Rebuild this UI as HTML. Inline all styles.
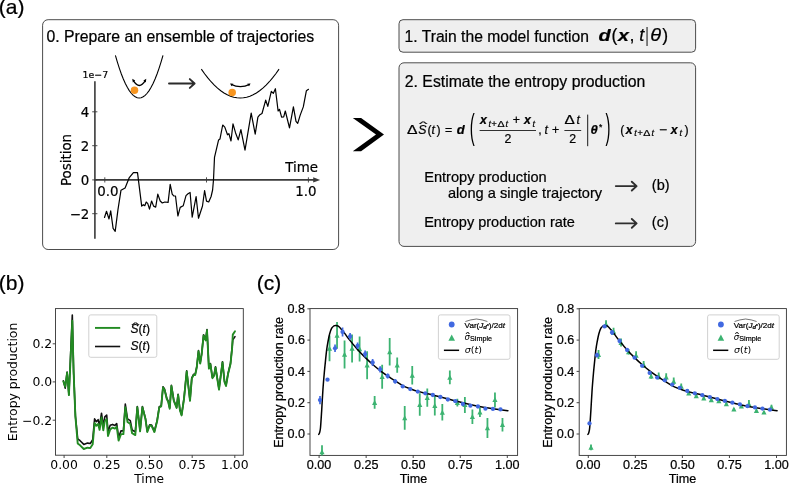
<!DOCTYPE html>
<html lang="en"><head><meta charset="utf-8"><title>Figure</title>
<style>html,body{margin:0;padding:0;background:#fff}svg{display:block}.ls{font-family:"Liberation Sans",Arial,Helvetica,sans-serif;stroke:#000;stroke-width:0.22px}.dv{font-family:"DejaVu Sans","Liberation Sans",sans-serif}.lsn{font-family:"Liberation Sans",Arial,Helvetica,sans-serif}.ser{font-family:"Liberation Serif","DejaVu Serif",serif}.da{stroke:#000;stroke-width:0.2px}text{fill:#000}</style></head><body>
<svg width="789" height="484" viewBox="0 0 789 484">
<rect width="789" height="484" fill="#fff"/>
<text class="ls" x="-1.2" y="14.4" font-size="21">(a)</text>
<text class="ls" x="-1.2" y="290.1" font-size="21">(b)</text>
<text class="ls" x="256.8" y="290.1" font-size="21">(c)</text>
<rect x="42.6" y="19.7" width="296" height="229.8" rx="5.5" fill="#fff" stroke="#4d4d4d" stroke-width="1"/>
<text class="ls" x="46.4" y="42.3" font-size="15.8">0. Prepare an ensemble of trajectories</text>
<line x1="94.9" y1="81.3" x2="94.9" y2="238.8" stroke="#3a3a3a" stroke-width="1.6"/>
<line x1="94.2" y1="179.9" x2="316" y2="179.9" stroke="#3a3a3a" stroke-width="1.6"/>
<polygon points="320.2,179.9 313.2,177.3 313.2,182.5" fill="#3a3a3a"/>
<line x1="92.2" y1="111.8" x2="97.4" y2="111.8" stroke="#3a3a3a" stroke-width="0.9"/>
<text class="dv da" x="89.4" y="116.75" font-size="13.4" text-anchor="end">4</text>
<line x1="92.2" y1="145.7" x2="97.4" y2="145.7" stroke="#3a3a3a" stroke-width="0.9"/>
<text class="dv da" x="89.4" y="150.65" font-size="13.4" text-anchor="end">2</text>
<line x1="92.2" y1="179.9" x2="97.4" y2="179.9" stroke="#3a3a3a" stroke-width="0.9"/>
<text class="dv da" x="89.4" y="184.85" font-size="13.4" text-anchor="end">0</text>
<line x1="92.2" y1="213.7" x2="97.4" y2="213.7" stroke="#3a3a3a" stroke-width="0.9"/>
<text class="dv da" x="89.4" y="218.65" font-size="13.4" text-anchor="end">−2</text>
<line x1="104.8" y1="177.3" x2="104.8" y2="182.5" stroke="#3a3a3a" stroke-width="0.9"/>
<line x1="206.5" y1="177.3" x2="206.5" y2="182.5" stroke="#3a3a3a" stroke-width="0.9"/>
<line x1="308.4" y1="177.3" x2="308.4" y2="182.5" stroke="#3a3a3a" stroke-width="0.9"/>
<text class="dv da" x="97.2" y="195.5" font-size="13.4">0.0</text>
<text class="dv da" x="295.2" y="195.5" font-size="13.4">1.0</text>
<text class="dv da" x="285.2" y="172.2" font-size="13.4">Time</text>
<text class="dv da" x="82.6" y="77.8" font-size="9.4">1e−7</text>
<text class="dv da" font-size="13.4" text-anchor="middle" transform="translate(70.8,160) rotate(-90)">Position</text>
<polyline points="104.5,217.5 106.5,211.3 109,219 110.7,210.9 113.1,228.4 115.2,231.3 117.9,210.2 121,190.2 125.1,187.9 129.3,177.6 133.4,172.6 137.5,172.6 141.7,206.1 143.3,204.7 144.8,205.7 146.2,202 147.8,203.6 149.5,209.2 151.6,201 153.6,206.1 155.7,207.1 157.8,194.1 160.2,201 162.3,203 164.8,202 168.1,202.4 170.2,184.4 172.2,194.1 173.7,195.8 175.5,196 177.9,216 180.2,207.4 183.2,205.8 186,195.6 188,193.7 190.1,192.5 192.2,217.1 196.1,196.6 198.5,218.2 202.5,206 204.6,190.5 206.5,201.1 208.7,202 211.1,196.5 212.6,190 213.5,179.7 214.5,157.4 218.6,139.9 220,138.9 222.7,125 224.8,127.1 227.5,134.8 228.9,133.7 231,141 233,123.8 235.5,132.7 238.2,139.9 240.9,129.6 245,150.2 251.2,113.1 255.2,134.1 257.9,117.2 259.9,114.7 262,113.5 265.7,100.2 267.8,106.4 271.3,91.4 273.3,93.4 275.4,88.7 278.1,111 279.5,109.3 281.6,117.2 283.7,116.8 285.3,111 289.5,127.9 293.4,106.9 296,121.3 297.7,123.4 300.2,115.1 303.3,106.9 306.4,90.7 308.5,89.3" fill="none" stroke="#000" stroke-width="1.2" stroke-linejoin="round" stroke-linecap="round"/>
<polyline points="115.4,55.3 117.38,62.12 119.37,68.35 121.35,73.98 123.33,79.02 125.32,83.47 127.3,87.33 129.28,90.59 131.27,93.26 133.25,95.33 135.23,96.81 137.22,97.7 139.2,98 141.18,97.7 143.17,96.81 145.15,95.33 147.13,93.26 149.12,90.59 151.1,87.33 153.08,83.47 155.07,79.02 157.05,73.98 159.03,68.35 161.02,62.12 163,55.3" fill="none" stroke="#000" stroke-width="1.1"/>
<polyline points="201.35,69.1 204.59,73.72 207.82,77.93 211.06,81.74 214.3,85.16 217.54,88.17 220.77,90.78 224.01,92.98 227.25,94.79 230.49,96.19 233.72,97.2 236.96,97.8 240.2,98 243.44,97.8 246.67,97.2 249.91,96.19 253.15,94.79 256.39,92.98 259.62,90.78 262.86,88.17 266.1,85.16 269.34,81.74 272.57,77.93 275.81,73.72 279.05,69.1" fill="none" stroke="#000" stroke-width="1.1"/>
<circle cx="134.5" cy="90.3" r="3.75" fill="#f7951f"/>
<circle cx="232.2" cy="92.6" r="3.75" fill="#f7951f"/>
<path d="M133.2,80.4 Q139.3,90.6 145.4,80.4" fill="none" stroke="#000" stroke-width="1.3"/>
<polygon points="132.3,78.8 135.2,80.6 132.8,82.4" fill="#000"/>
<polygon points="146.3,78.8 143.4,80.6 145.8,82.4" fill="#000"/>
<path d="M231.2,84.4 Q240.4,88.9 249.6,84.4" fill="none" stroke="#000" stroke-width="1.3"/>
<polygon points="230,83.4 233.4,83.7 231.6,86.3" fill="#000"/>
<polygon points="250.6,83.4 247.2,83.7 249,86.3" fill="#000"/>
<path d="M169,83.5 H194 M189.8,79.1 L194.6,83.5 L189.8,87.9" fill="none" stroke="#2b2b2b" stroke-width="1.9" stroke-linejoin="round" stroke-linecap="round"/>
<polygon points="352.8,118.1 361.1,118.1 384,134.5 361.1,151.2 352.8,151.2 376,134.5" fill="#000"/>
<rect x="399" y="19.7" width="296.6" height="32.5" rx="4" fill="#efefef" stroke="#4d4d4d" stroke-width="1"/>
<rect x="399" y="62.8" width="296.6" height="183.6" rx="5" fill="#efefef" stroke="#4d4d4d" stroke-width="1"/>
<text class="ls" x="404.6" y="42.4" font-size="15.65">1. Train the model function</text>
<text class="ls" font-size="17" transform="translate(598.4,40.9) scale(1.17,1.0)" font-weight="bold" font-style="italic">d</text>
<text class="ls" font-size="17.6" transform="translate(611.4,41.2) scale(1.0,1.0)">(</text>
<text class="ls" font-size="17" transform="translate(618,40.9) scale(1.15,1.0)" font-weight="bold" font-style="italic">x</text>
<text class="ls" font-size="18" transform="translate(629.6,40.9) scale(1.0,1.0)">,</text>
<text class="ls" font-size="18" transform="translate(639.2,40.9) scale(1.0,1.0)" font-style="italic">t</text>
<text class="lsn" font-size="17" transform="translate(645.5,42.3) scale(0.7,1.22)">|</text>
<text class="ls" font-size="18.5" transform="translate(650.2,40.9) scale(1.08,1.0)" font-style="italic">θ</text>
<text class="ls" font-size="17.6" transform="translate(662.2,41.2) scale(1.0,1.0)">)</text>
<text class="ls" x="404.8" y="86.8" font-size="15.8">2. Estimate the entropy production</text>
<text class="ls" font-size="12.3" transform="translate(406.9,133.8) scale(1.28,1.0)">Δ</text>
<text class="ls" x="418.2" y="133.8" font-size="12.3" font-style="italic">S</text>
<text class="ls" font-size="10" transform="translate(423.2,125.6) scale(1.8,0.8)" text-anchor="middle">^</text>
<text class="ls" x="427.6" y="133.8" font-size="12.3">(</text>
<text class="ls" x="431.6" y="133.8" font-size="12.3" font-style="italic">t</text>
<text class="ls" x="436.4" y="133.8" font-size="12.3">)</text>
<text class="ls" x="444.9" y="133.8" font-size="12.3">=</text>
<text class="ls" x="456.8" y="133.8" font-size="13" font-weight="bold" font-style="italic">d</text>
<text class="lsn" font-size="24" transform="translate(469.8,139.4) scale(0.62,1.45)">(</text>
<text class="lsn" font-size="24" transform="translate(605.6,139.4) scale(0.62,1.45)">)</text>
<text class="ls" x="480" y="124" font-size="12.3" font-weight="bold" font-style="italic">x</text>
<text class="ls" x="488.4" y="126.6" font-size="9" font-style="italic">t</text>
<text class="ls" x="491.6" y="126.6" font-size="9">+</text>
<text class="ls" font-size="9" transform="translate(497.4,126.6) scale(1.18,1.0)">Δ</text>
<text class="ls" x="505.6" y="126.6" font-size="9" font-style="italic">t</text>
<text class="ls" x="512.8" y="124" font-size="12.3">+</text>
<text class="ls" x="523.9" y="124" font-size="12.3" font-weight="bold" font-style="italic">x</text>
<text class="ls" x="532.4" y="126.6" font-size="9" font-style="italic">t</text>
<line x1="479.6" y1="130.5" x2="536" y2="130.5" stroke="#000" stroke-width="0.8"/>
<text class="ls" x="508" y="142.6" font-size="12.3" text-anchor="middle">2</text>
<text class="ls" x="538.2" y="133.8" font-size="12.3">,</text>
<text class="ls" x="544.4" y="133.8" font-size="12.3" font-style="italic">t</text>
<text class="ls" x="552" y="133.8" font-size="12.3">+</text>
<text class="ls" font-size="12.3" transform="translate(564.6,124.2) scale(1.25,1.0)">Δ</text>
<text class="ls" x="576.6" y="124.2" font-size="12.3" font-style="italic">t</text>
<line x1="564.4" y1="130.5" x2="581.2" y2="130.5" stroke="#000" stroke-width="0.8"/>
<text class="ls" x="572.6" y="142.6" font-size="12.3" text-anchor="middle">2</text>
<line x1="587.7" y1="114.6" x2="587.7" y2="146.2" stroke="#000" stroke-width="0.9"/>
<text class="ls" x="590.4" y="133.8" font-size="13" font-weight="bold" font-style="italic">θ</text>
<text class="ls" x="599" y="129.6" font-size="8.5">*</text>
<text class="ls" x="620.2" y="133.8" font-size="12.3">(</text>
<text class="ls" x="625.8" y="133.8" font-size="12.3" font-weight="bold" font-style="italic">x</text>
<text class="ls" x="634.2" y="136.4" font-size="9" font-style="italic">t</text>
<text class="ls" x="637.4" y="136.4" font-size="9">+</text>
<text class="ls" font-size="9" transform="translate(643.2,136.4) scale(1.18,1.0)">Δ</text>
<text class="ls" x="651.4" y="136.4" font-size="9" font-style="italic">t</text>
<text class="ls" font-size="12.3" transform="translate(659,133.8) scale(1.12,1.0)">−</text>
<text class="ls" x="670.8" y="133.8" font-size="12.3" font-weight="bold" font-style="italic">x</text>
<text class="ls" x="679.4" y="136.4" font-size="9" font-style="italic">t</text>
<text class="ls" x="684.4" y="133.8" font-size="12.3">)</text>
<text class="ls" x="424.2" y="181.6" font-size="14.6">Entropy production</text>
<text class="ls" x="448" y="198.1" font-size="14.6">along a single trajectory</text>
<text class="ls" x="424.2" y="226.8" font-size="14.5">Entropy production rate</text>
<path d="M615.8,186.1 H636 M631.8,181.7 L636.6,186.1 L631.8,190.5" fill="none" stroke="#2e2e2e" stroke-width="1.9" stroke-linejoin="round" stroke-linecap="round"/>
<path d="M615.8,223.4 H636 M631.8,219.0 L636.6,223.4 L631.8,227.8" fill="none" stroke="#2e2e2e" stroke-width="1.9" stroke-linejoin="round" stroke-linecap="round"/>
<text class="ls" x="651.8" y="190.3" font-size="14.5">(b)</text>
<text class="ls" x="651.8" y="227" font-size="14.5">(c)</text>
<rect x="55.5" y="308.6" width="187.8" height="146.6" fill="#fff" stroke="#333" stroke-width="0.9"/>
<polyline points="63.4,380.8 65.2,388.1 67.1,372.1 68.9,394.4 72.3,315.1 73.6,371.2 75.4,415.8 77.7,438.8 80.1,440.7 83.8,444.4 87.5,443.1 90.3,443.5 92.7,439.7 94.6,418.8 96.3,421.6 98.1,419.7 99.6,425.7 101.5,413.2 103.3,426.2 104.8,416.9 106.7,415.1 108,431.8 110.2,425.3 112.6,424.4 114.9,425.4 116.7,423.5 118.6,437.4 121,430.9 123.4,430.9 125.3,404 127.5,418.8 130.3,420.7 132.1,430 135.3,431.9 137.3,406.5 140.1,430.6 142.4,406.5 145.5,418.6 147.3,431.3 149.7,424.8 151.6,425.1 154.4,431.3 157.1,420.6 159.3,406.7 161.2,405.8 163,386.8 164.5,389 166.9,398.7 168.2,401.1 169.7,408 171.4,385.3 173.8,400.2 176.6,407.3 178.1,394.2 179.9,409.5 181.6,414.7 184,398.3 186.7,370.8 190,400.2 191.8,377.9 193.7,374.2 195.2,374.3 196.8,366.5 198.5,350.6 200.2,362.9 201.7,353.5 203.6,334.7 205.7,339.7 207,329.6 208.9,367.9 210.4,363.5 212.4,377.5 214.1,375.1 215.5,366.8 219,389 222.5,361.7 224.5,381.3 226,385.3 228.1,373.2 230.5,363.3 232.1,347.7 232.8,339.9 235,336.6" fill="none" stroke="#111" stroke-width="1.6" stroke-linejoin="round" stroke-linecap="round"/>
<polyline points="63.4,381.5 65.2,386.7 67.1,372.8 68.9,395.1 72.3,320.7 73.6,371.9 75.4,416.5 77.7,443.4 80.1,445.3 83.8,449 87.5,447.7 90.3,448.1 92.7,444.3 94.6,423 96.3,425.8 98.1,423.9 99.6,429.9 101.5,417.4 103.3,430.4 104.8,421.1 106.7,419.3 108,436 110.2,429.5 112.6,427.6 114.9,428.6 116.7,426.7 118.6,440.6 121,434.1 123.4,434.1 125.3,407.2 127.5,422 130.3,423.9 132.1,433.2 135.3,435.1 137.3,407.2 140.1,431.3 142.4,407.2 145.5,419.3 147.3,432 149.7,425.5 151.6,425.8 154.4,432 157.1,421.3 159.3,407.4 161.2,406.5 163,387.5 164.5,389.7 166.9,399.4 168.2,401.8 169.7,408.7 171.4,386 173.8,400.9 176.6,408 178.1,394.9 179.9,410.2 181.6,415.4 184,399 186.7,371.5 190,400.9 191.8,378.6 193.7,374.9 195.2,375 196.8,367.2 198.5,351.3 200.2,363.6 201.7,354.2 203.6,335.4 205.7,340.4 207,330.3 208.9,368.6 210.4,364.2 212.4,378.2 214.1,375.8 215.5,367.5 219,389.7 222.5,362.4 224.5,382 226,386 228.1,373.9 230.5,364 232.1,348.4 232.8,334.6 235,331.3" fill="none" stroke="#228b22" stroke-width="1.9" stroke-linejoin="round" stroke-linecap="round"/>
<line x1="52.7" y1="343.8" x2="55.5" y2="343.8" stroke="#333" stroke-width="0.9"/>
<text class="dv" x="52.2" y="348.3" font-size="12.4" text-anchor="end">0.2</text>
<line x1="52.7" y1="381.9" x2="55.5" y2="381.9" stroke="#333" stroke-width="0.9"/>
<text class="dv" x="52.2" y="386.4" font-size="12.4" text-anchor="end">0.0</text>
<line x1="52.7" y1="420.2" x2="55.5" y2="420.2" stroke="#333" stroke-width="0.9"/>
<text class="dv" x="52.2" y="424.7" font-size="12.4" text-anchor="end">−0.2</text>
<line x1="64.1" y1="455.2" x2="64.1" y2="458" stroke="#333" stroke-width="0.9"/>
<text class="dv" x="64.1" y="468.9" font-size="12.4" text-anchor="middle">0.00</text>
<line x1="106.8" y1="455.2" x2="106.8" y2="458" stroke="#333" stroke-width="0.9"/>
<text class="dv" x="106.8" y="468.9" font-size="12.4" text-anchor="middle">0.25</text>
<line x1="149.5" y1="455.2" x2="149.5" y2="458" stroke="#333" stroke-width="0.9"/>
<text class="dv" x="149.5" y="468.9" font-size="12.4" text-anchor="middle">0.50</text>
<line x1="192.2" y1="455.2" x2="192.2" y2="458" stroke="#333" stroke-width="0.9"/>
<text class="dv" x="192.2" y="468.9" font-size="12.4" text-anchor="middle">0.75</text>
<line x1="234.8" y1="455.2" x2="234.8" y2="458" stroke="#333" stroke-width="0.9"/>
<text class="dv" x="234.8" y="468.9" font-size="12.4" text-anchor="middle">1.00</text>
<text class="dv" x="149.1" y="483.2" font-size="12.2" text-anchor="middle">Time</text>
<text class="dv" font-size="12.4" text-anchor="middle" transform="translate(16.8,382) rotate(-90)">Entropy production</text>
<rect x="88.8" y="314.9" width="68" height="42.4" rx="2" fill="#fff" fill-opacity="0.8" stroke="#ccc" stroke-width="0.9"/>
<line x1="95" y1="327.9" x2="120.2" y2="327.9" stroke="#228b22" stroke-width="1.9"/>
<line x1="95" y1="346.5" x2="120.2" y2="346.5" stroke="#111" stroke-width="1.6"/>
<text class="ls" x="130.6" y="332.8" font-size="12" font-style="italic">S<tspan font-style="normal">(</tspan>t<tspan font-style="normal">)</tspan></text>
<text class="ls" font-size="10" text-anchor="middle" transform="translate(135.4,326.8) scale(1.7,0.8)">^</text>
<text class="ls" x="130.6" y="349.7" font-size="12" font-style="italic">S<tspan font-style="normal">(</tspan>t<tspan font-style="normal">)</tspan></text>
<rect x="310" y="308.6" width="207.6" height="146.8" fill="#fff" stroke="#333" stroke-width="0.9"/>
<clipPath id="c1"><rect x="310" y="308.6" width="207.6" height="146.8"/></clipPath>
<g clip-path="url(#c1)">
<line x1="322" y1="445.3" x2="322" y2="460" stroke="#3cb371" stroke-width="1.8"/>
<polygon points="322,449.3 319.44,454.3 324.56,454.3" fill="#3cb371"/>
<line x1="329.52" y1="335.6" x2="329.52" y2="361.2" stroke="#3cb371" stroke-width="1.8"/>
<polygon points="329.52,345.7 326.95,350.69 332.08,350.69" fill="#3cb371"/>
<line x1="337.04" y1="322" x2="337.04" y2="348.8" stroke="#3cb371" stroke-width="1.8"/>
<polygon points="337.04,332.7 334.48,337.69 339.61,337.69" fill="#3cb371"/>
<line x1="344.56" y1="340.5" x2="344.56" y2="368.6" stroke="#3cb371" stroke-width="1.8"/>
<polygon points="344.56,351.8 342,356.8 347.12,356.8" fill="#3cb371"/>
<line x1="352.08" y1="334.4" x2="352.08" y2="362.5" stroke="#3cb371" stroke-width="1.8"/>
<polygon points="352.08,345.7 349.51,350.69 354.64,350.69" fill="#3cb371"/>
<line x1="359.6" y1="336.4" x2="359.6" y2="361.5" stroke="#3cb371" stroke-width="1.8"/>
<polygon points="359.6,346.2 357.04,351.19 362.17,351.19" fill="#3cb371"/>
<line x1="367.12" y1="351.2" x2="367.12" y2="379.2" stroke="#3cb371" stroke-width="1.8"/>
<polygon points="367.12,362.5 364.56,367.5 369.69,367.5" fill="#3cb371"/>
<line x1="374.64" y1="396.1" x2="374.64" y2="408.8" stroke="#3cb371" stroke-width="1.8"/>
<polygon points="374.64,399.9 372.07,404.9 377.2,404.9" fill="#3cb371"/>
<line x1="382.16" y1="364.8" x2="382.16" y2="388.7" stroke="#3cb371" stroke-width="1.8"/>
<polygon points="382.16,374.1 379.59,379.1 384.72,379.1" fill="#3cb371"/>
<line x1="389.68" y1="338" x2="389.68" y2="365.6" stroke="#3cb371" stroke-width="1.8"/>
<polygon points="389.68,349.3 387.12,354.3 392.25,354.3" fill="#3cb371"/>
<line x1="397.2" y1="357.5" x2="397.2" y2="372.8" stroke="#3cb371" stroke-width="1.8"/>
<polygon points="397.2,362.6 394.63,367.6 399.76,367.6" fill="#3cb371"/>
<line x1="404.72" y1="406" x2="404.72" y2="429.8" stroke="#3cb371" stroke-width="1.8"/>
<polygon points="404.72,415.3 402.16,420.3 407.29,420.3" fill="#3cb371"/>
<line x1="412.24" y1="366" x2="412.24" y2="384.6" stroke="#3cb371" stroke-width="1.8"/>
<polygon points="412.24,372.7 409.68,377.69 414.81,377.69" fill="#3cb371"/>
<line x1="419.76" y1="393.3" x2="419.76" y2="415.8" stroke="#3cb371" stroke-width="1.8"/>
<polygon points="419.76,401.9 417.19,406.9 422.32,406.9" fill="#3cb371"/>
<line x1="427.28" y1="388.4" x2="427.28" y2="406.8" stroke="#3cb371" stroke-width="1.8"/>
<polygon points="427.28,395.1 424.71,400.1 429.84,400.1" fill="#3cb371"/>
<line x1="434.8" y1="395.8" x2="434.8" y2="415.6" stroke="#3cb371" stroke-width="1.8"/>
<polygon points="434.8,403 432.24,408 437.37,408" fill="#3cb371"/>
<line x1="442.32" y1="404" x2="442.32" y2="420.6" stroke="#3cb371" stroke-width="1.8"/>
<polygon points="442.32,409.7 439.75,414.69 444.88,414.69" fill="#3cb371"/>
<line x1="449.84" y1="370.5" x2="449.84" y2="384.3" stroke="#3cb371" stroke-width="1.8"/>
<polygon points="449.84,374.8 447.27,379.8 452.4,379.8" fill="#3cb371"/>
<line x1="457.36" y1="398.8" x2="457.36" y2="406.6" stroke="#3cb371" stroke-width="1.8"/>
<polygon points="457.36,399.9 454.8,404.9 459.93,404.9" fill="#3cb371"/>
<line x1="464.88" y1="397" x2="464.88" y2="413.1" stroke="#3cb371" stroke-width="1.8"/>
<polygon points="464.88,402.1 462.31,407.1 467.44,407.1" fill="#3cb371"/>
<line x1="472.4" y1="409.4" x2="472.4" y2="424" stroke="#3cb371" stroke-width="1.8"/>
<polygon points="472.4,414.1 469.83,419.1 474.96,419.1" fill="#3cb371"/>
<line x1="479.92" y1="407.4" x2="479.92" y2="417" stroke="#3cb371" stroke-width="1.8"/>
<polygon points="479.92,409.5 477.35,414.5 482.48,414.5" fill="#3cb371"/>
<line x1="487.44" y1="418.1" x2="487.44" y2="437.9" stroke="#3cb371" stroke-width="1.8"/>
<polygon points="487.44,425.3 484.88,430.3 490,430.3" fill="#3cb371"/>
<line x1="494.96" y1="392.6" x2="494.96" y2="407.4" stroke="#3cb371" stroke-width="1.8"/>
<polygon points="494.96,397.1 492.39,402.1 497.52,402.1" fill="#3cb371"/>
<line x1="502.48" y1="418.1" x2="502.48" y2="431.4" stroke="#3cb371" stroke-width="1.8"/>
<polygon points="502.48,422.1 499.92,427.1 505.05,427.1" fill="#3cb371"/>
<path d="M318.7,434.4C318.85,434.1 319.3,433.72 319.6,432.6C319.9,431.48 320.15,431.45 320.5,427.7C320.85,423.95 321.3,416.38 321.7,410.1C322.1,403.82 322.47,396.22 322.9,390C323.33,383.78 323.85,377.87 324.3,372.8C324.75,367.73 325.2,363.45 325.6,359.6C326,355.75 326.32,352.6 326.7,349.7C327.08,346.8 327.42,344.82 327.9,342.2C328.38,339.58 328.97,336.33 329.6,334C330.23,331.67 330.98,329.55 331.7,328.2C332.42,326.85 333.22,326.37 333.9,325.9C334.58,325.43 335.07,325.35 335.8,325.4C336.53,325.45 337.33,325.52 338.3,326.2C339.27,326.88 340.5,328.27 341.6,329.5C342.7,330.73 343.65,331.95 344.9,333.6C346.15,335.25 347.03,336.8 349.1,339.4C351.17,342 354.55,346.12 357.3,349.2C360.05,352.28 362.83,355.18 365.6,357.9C368.37,360.62 371.15,363.13 373.9,365.5C376.65,367.87 379.35,370.05 382.1,372.1C384.85,374.15 388.08,376.25 390.4,377.8C392.72,379.35 393.95,380.1 396,381.4C398.05,382.7 400.33,384.37 402.7,385.6C405.07,386.83 407.67,387.83 410.2,388.8C412.73,389.77 415.33,390.65 417.9,391.4C420.47,392.15 423.08,392.68 425.6,393.3C428.12,393.92 428.17,393.87 433,395.1C437.83,396.33 446.87,398.8 454.6,400.7C462.33,402.6 470.52,404.83 479.4,406.5C488.28,408.17 503.15,410 507.9,410.7" fill="none" stroke="#000" stroke-width="1.5" stroke-linecap="round"/>
<line x1="320" y1="395.9" x2="320" y2="404.3" stroke="#4169e1" stroke-width="1.7"/>
<circle cx="320" cy="400.1" r="2.15" fill="#4169e1"/>
<circle cx="327.52" cy="379.7" r="2.15" fill="#4169e1"/>
<line x1="335.04" y1="344.6" x2="335.04" y2="352" stroke="#4169e1" stroke-width="1.7"/>
<circle cx="335.04" cy="348.3" r="2.15" fill="#4169e1"/>
<line x1="342.56" y1="327.4" x2="342.56" y2="336.4" stroke="#4169e1" stroke-width="1.7"/>
<circle cx="342.56" cy="331.9" r="2.15" fill="#4169e1"/>
<line x1="350.08" y1="333.1" x2="350.08" y2="339.7" stroke="#4169e1" stroke-width="1.7"/>
<circle cx="350.08" cy="336.4" r="2.15" fill="#4169e1"/>
<line x1="357.6" y1="342.5" x2="357.6" y2="349.1" stroke="#4169e1" stroke-width="1.7"/>
<circle cx="357.6" cy="345.8" r="2.15" fill="#4169e1"/>
<line x1="365.12" y1="350.6" x2="365.12" y2="357.6" stroke="#4169e1" stroke-width="1.7"/>
<circle cx="365.12" cy="354.1" r="2.15" fill="#4169e1"/>
<line x1="372.64" y1="359" x2="372.64" y2="366" stroke="#4169e1" stroke-width="1.7"/>
<circle cx="372.64" cy="362.5" r="2.15" fill="#4169e1"/>
<line x1="380.16" y1="366.3" x2="380.16" y2="372.5" stroke="#4169e1" stroke-width="1.7"/>
<circle cx="380.16" cy="369.4" r="2.15" fill="#4169e1"/>
<line x1="387.68" y1="373.4" x2="387.68" y2="378.6" stroke="#4169e1" stroke-width="1.7"/>
<circle cx="387.68" cy="376" r="2.15" fill="#4169e1"/>
<line x1="395.2" y1="379.2" x2="395.2" y2="383.6" stroke="#4169e1" stroke-width="1.7"/>
<circle cx="395.2" cy="381.4" r="2.15" fill="#4169e1"/>
<circle cx="402.72" cy="386.4" r="2.15" fill="#4169e1"/>
<circle cx="410.24" cy="389.1" r="2.15" fill="#4169e1"/>
<circle cx="417.76" cy="391.6" r="2.15" fill="#4169e1"/>
<circle cx="425.28" cy="393.3" r="2.15" fill="#4169e1"/>
<circle cx="432.8" cy="395" r="2.15" fill="#4169e1"/>
<circle cx="440.32" cy="397" r="2.15" fill="#4169e1"/>
<circle cx="447.84" cy="399.5" r="2.15" fill="#4169e1"/>
<circle cx="455.36" cy="401.2" r="2.15" fill="#4169e1"/>
<circle cx="462.88" cy="404" r="2.15" fill="#4169e1"/>
<circle cx="470.4" cy="405.7" r="2.15" fill="#4169e1"/>
<circle cx="477.92" cy="406.5" r="2.15" fill="#4169e1"/>
<circle cx="485.44" cy="408.7" r="2.15" fill="#4169e1"/>
<circle cx="492.96" cy="408.9" r="2.15" fill="#4169e1"/>
<circle cx="500.48" cy="409.4" r="2.15" fill="#4169e1"/>
</g>
<line x1="307.4" y1="434" x2="310" y2="434" stroke="#333" stroke-width="0.9"/>
<text class="ls" x="305" y="438.3" font-size="12.6" text-anchor="end">0.0</text>
<line x1="307.4" y1="402.7" x2="310" y2="402.7" stroke="#333" stroke-width="0.9"/>
<text class="ls" x="305" y="407" font-size="12.6" text-anchor="end">0.2</text>
<line x1="307.4" y1="371.4" x2="310" y2="371.4" stroke="#333" stroke-width="0.9"/>
<text class="ls" x="305" y="375.7" font-size="12.6" text-anchor="end">0.4</text>
<line x1="307.4" y1="340.1" x2="310" y2="340.1" stroke="#333" stroke-width="0.9"/>
<text class="ls" x="305" y="344.4" font-size="12.6" text-anchor="end">0.6</text>
<line x1="307.4" y1="308.8" x2="310" y2="308.8" stroke="#333" stroke-width="0.9"/>
<text class="ls" x="305" y="313.1" font-size="12.6" text-anchor="end">0.8</text>
<line x1="319.1" y1="455.4" x2="319.1" y2="458" stroke="#333" stroke-width="0.9"/>
<text class="ls" x="319.1" y="469.2" font-size="12.6" text-anchor="middle">0.00</text>
<line x1="366.15" y1="455.4" x2="366.15" y2="458" stroke="#333" stroke-width="0.9"/>
<text class="ls" x="366.15" y="469.2" font-size="12.6" text-anchor="middle">0.25</text>
<line x1="413.2" y1="455.4" x2="413.2" y2="458" stroke="#333" stroke-width="0.9"/>
<text class="ls" x="413.2" y="469.2" font-size="12.6" text-anchor="middle">0.50</text>
<line x1="460.25" y1="455.4" x2="460.25" y2="458" stroke="#333" stroke-width="0.9"/>
<text class="ls" x="460.25" y="469.2" font-size="12.6" text-anchor="middle">0.75</text>
<line x1="507.3" y1="455.4" x2="507.3" y2="458" stroke="#333" stroke-width="0.9"/>
<text class="ls" x="507.3" y="469.2" font-size="12.6" text-anchor="middle">1.00</text>
<text class="ls" x="413.5" y="483.2" font-size="12.6" text-anchor="middle">Time</text>
<text class="ls" font-size="12.6" text-anchor="middle" transform="translate(283,382.4) rotate(-90)">Entropy production rate</text>
<rect x="438.4" y="314.9" width="71.6" height="44.4" rx="2" fill="#fff" fill-opacity="0.8" stroke="#ccc" stroke-width="0.9"/>
<circle cx="451.7" cy="324.5" r="2.9" fill="#4169e1"/>
<polygon points="451.7,334.6 448.4,340.8 455,340.8" fill="#3cb371"/>
<line x1="443.9" y1="350.3" x2="459.1" y2="350.3" stroke="#000" stroke-width="1.5"/>
<text class="ls" x="464.6" y="327.9" font-size="8.1">Var(<tspan font-style="italic">J</tspan><tspan font-size="5.8" dy="1.4" font-weight="bold" font-style="italic">d</tspan><tspan font-size="4.6" dy="-1.6">*</tspan><tspan dy="0.2">)/2d<tspan font-style="italic">t</tspan></tspan></text>
<path d="M465.4,321.5 Q470.4,319.6 476.4,319 Q482.4,319.6 487.4,321.5" fill="none" stroke="#000" stroke-width="0.55"/>
<text class="dv" x="464.6" y="339.6" font-size="8.6" font-style="italic">σ<tspan class="ls" font-size="7.2" dy="1.6" font-style="normal">Simple</tspan></text>
<text class="ls" font-size="7" text-anchor="middle" transform="translate(467.8,335.6) scale(1.2,0.7)">^</text>
<text class="dv" x="464.8" y="352.8" font-size="9.5" font-style="italic">σ<tspan font-style="normal">(</tspan>t<tspan font-style="normal">)</tspan></text>
<rect x="579.2" y="308.6" width="207.2" height="146.8" fill="#fff" stroke="#333" stroke-width="0.9"/>
<clipPath id="c2"><rect x="579.2" y="308.6" width="207.2" height="146.8"/></clipPath>
<g clip-path="url(#c2)">
<line x1="591" y1="444.42" x2="591" y2="450.18" stroke="#3cb371" stroke-width="1.8"/>
<polygon points="591,444.8 588.43,449.8 593.57,449.8" fill="#3cb371"/>
<line x1="598.52" y1="350.1" x2="598.52" y2="359.1" stroke="#3cb371" stroke-width="1.8"/>
<polygon points="598.52,352.1 595.95,357.1 601.09,357.1" fill="#3cb371"/>
<line x1="606.04" y1="320.3" x2="606.04" y2="327.5" stroke="#3cb371" stroke-width="1.8"/>
<polygon points="606.04,321.4 603.47,326.4 608.61,326.4" fill="#3cb371"/>
<line x1="613.56" y1="327.7" x2="613.56" y2="334.9" stroke="#3cb371" stroke-width="1.8"/>
<polygon points="613.56,328.8 610.99,333.8 616.12,333.8" fill="#3cb371"/>
<line x1="621.08" y1="338.45" x2="621.08" y2="346.55" stroke="#3cb371" stroke-width="1.8"/>
<polygon points="621.08,340 618.51,345 623.65,345" fill="#3cb371"/>
<line x1="628.6" y1="349.1" x2="628.6" y2="354.5" stroke="#3cb371" stroke-width="1.8"/>
<polygon points="628.6,349.3 626.03,354.3 631.17,354.3" fill="#3cb371"/>
<line x1="636.12" y1="351.15" x2="636.12" y2="359.25" stroke="#3cb371" stroke-width="1.8"/>
<polygon points="636.12,352.7 633.55,357.69 638.69,357.69" fill="#3cb371"/>
<line x1="643.64" y1="360.9" x2="643.64" y2="368.1" stroke="#3cb371" stroke-width="1.8"/>
<polygon points="643.64,362 641.07,367 646.21,367" fill="#3cb371"/>
<line x1="651.16" y1="373.3" x2="651.16" y2="378.7" stroke="#3cb371" stroke-width="1.8"/>
<polygon points="651.16,373.5 648.59,378.5 653.73,378.5" fill="#3cb371"/>
<line x1="658.68" y1="372.4" x2="658.68" y2="379.6" stroke="#3cb371" stroke-width="1.8"/>
<polygon points="658.68,373.5 656.11,378.5 661.25,378.5" fill="#3cb371"/>
<line x1="666.2" y1="373.3" x2="666.2" y2="380.5" stroke="#3cb371" stroke-width="1.8"/>
<polygon points="666.2,374.4 663.63,379.4 668.77,379.4" fill="#3cb371"/>
<line x1="673.72" y1="377.6" x2="673.72" y2="384.8" stroke="#3cb371" stroke-width="1.8"/>
<polygon points="673.72,378.7 671.15,383.69 676.29,383.69" fill="#3cb371"/>
<line x1="681.24" y1="383.5" x2="681.24" y2="388.9" stroke="#3cb371" stroke-width="1.8"/>
<polygon points="681.24,383.7 678.67,388.69 683.81,388.69" fill="#3cb371"/>
<line x1="688.76" y1="392.2" x2="688.76" y2="394" stroke="#3cb371" stroke-width="1.8"/>
<polygon points="688.76,390.6 686.19,395.6 691.33,395.6" fill="#3cb371"/>
<line x1="696.28" y1="394.8" x2="696.28" y2="396.6" stroke="#3cb371" stroke-width="1.8"/>
<polygon points="696.28,393.2 693.71,398.19 698.85,398.19" fill="#3cb371"/>
<line x1="703.8" y1="397.1" x2="703.8" y2="398.9" stroke="#3cb371" stroke-width="1.8"/>
<polygon points="703.8,395.5 701.23,400.5 706.37,400.5" fill="#3cb371"/>
<line x1="711.32" y1="398.9" x2="711.32" y2="400.7" stroke="#3cb371" stroke-width="1.8"/>
<polygon points="711.32,397.3 708.75,402.3 713.88,402.3" fill="#3cb371"/>
<line x1="718.84" y1="399.8" x2="718.84" y2="401.6" stroke="#3cb371" stroke-width="1.8"/>
<polygon points="718.84,398.2 716.27,403.19 721.41,403.19" fill="#3cb371"/>
<line x1="726.36" y1="402.8" x2="726.36" y2="404.6" stroke="#3cb371" stroke-width="1.8"/>
<polygon points="726.36,401.2 723.79,406.19 728.93,406.19" fill="#3cb371"/>
<line x1="733.88" y1="408" x2="733.88" y2="409.8" stroke="#3cb371" stroke-width="1.8"/>
<polygon points="733.88,406.4 731.31,411.4 736.45,411.4" fill="#3cb371"/>
<line x1="741.4" y1="405" x2="741.4" y2="406.8" stroke="#3cb371" stroke-width="1.8"/>
<polygon points="741.4,403.4 738.83,408.4 743.97,408.4" fill="#3cb371"/>
<line x1="748.92" y1="400.1" x2="748.92" y2="407.3" stroke="#3cb371" stroke-width="1.8"/>
<polygon points="748.92,401.2 746.35,406.19 751.49,406.19" fill="#3cb371"/>
<line x1="756.44" y1="409.6" x2="756.44" y2="411.4" stroke="#3cb371" stroke-width="1.8"/>
<polygon points="756.44,408 753.88,413 759.01,413" fill="#3cb371"/>
<line x1="763.96" y1="411.2" x2="763.96" y2="413" stroke="#3cb371" stroke-width="1.8"/>
<polygon points="763.96,409.6 761.39,414.6 766.53,414.6" fill="#3cb371"/>
<line x1="771.48" y1="404.85" x2="771.48" y2="409.35" stroke="#3cb371" stroke-width="1.8"/>
<polygon points="771.48,404.6 768.91,409.6 774.05,409.6" fill="#3cb371"/>
<path d="M587.9,434.4C588.05,434.1 588.5,433.72 588.8,432.6C589.1,431.48 589.35,431.45 589.7,427.7C590.05,423.95 590.5,416.38 590.9,410.1C591.3,403.82 591.67,396.22 592.1,390C592.53,383.78 593.05,377.87 593.5,372.8C593.95,367.73 594.4,363.45 594.8,359.6C595.2,355.75 595.52,352.6 595.9,349.7C596.28,346.8 596.62,344.82 597.1,342.2C597.58,339.58 598.17,336.33 598.8,334C599.43,331.67 600.18,329.55 600.9,328.2C601.62,326.85 602.42,326.37 603.1,325.9C603.78,325.43 604.27,325.35 605,325.4C605.73,325.45 606.53,325.52 607.5,326.2C608.47,326.88 609.7,328.27 610.8,329.5C611.9,330.73 612.85,331.95 614.1,333.6C615.35,335.25 616.23,336.8 618.3,339.4C620.37,342 623.75,346.12 626.5,349.2C629.25,352.28 632.03,355.18 634.8,357.9C637.57,360.62 640.35,363.13 643.1,365.5C645.85,367.87 648.55,370.05 651.3,372.1C654.05,374.15 657.28,376.25 659.6,377.8C661.92,379.35 663.15,380.1 665.2,381.4C667.25,382.7 669.53,384.37 671.9,385.6C674.27,386.83 676.87,387.83 679.4,388.8C681.93,389.77 684.53,390.65 687.1,391.4C689.67,392.15 692.28,392.68 694.8,393.3C697.32,393.92 697.37,393.87 702.2,395.1C707.03,396.33 716.07,398.8 723.8,400.7C731.53,402.6 739.72,404.83 748.6,406.5C757.48,408.17 772.35,410 777.1,410.7" fill="none" stroke="#000" stroke-width="1.5" stroke-linecap="round"/>
<circle cx="589.5" cy="423.4" r="2.15" fill="#4169e1"/>
<line x1="597.02" y1="352.8" x2="597.02" y2="357.6" stroke="#4169e1" stroke-width="1.7"/>
<circle cx="597.02" cy="355.2" r="2.15" fill="#4169e1"/>
<circle cx="604.54" cy="326.4" r="2.15" fill="#4169e1"/>
<line x1="612.06" y1="330.1" x2="612.06" y2="334.9" stroke="#4169e1" stroke-width="1.7"/>
<circle cx="612.06" cy="332.5" r="2.15" fill="#4169e1"/>
<line x1="619.58" y1="338.5" x2="619.58" y2="343.3" stroke="#4169e1" stroke-width="1.7"/>
<circle cx="619.58" cy="340.9" r="2.15" fill="#4169e1"/>
<circle cx="627.1" cy="350" r="2.15" fill="#4169e1"/>
<circle cx="634.62" cy="357.7" r="2.15" fill="#4169e1"/>
<circle cx="642.14" cy="365.8" r="2.15" fill="#4169e1"/>
<circle cx="649.66" cy="372.9" r="2.15" fill="#4169e1"/>
<circle cx="657.18" cy="377.6" r="2.15" fill="#4169e1"/>
<circle cx="664.7" cy="380.3" r="2.15" fill="#4169e1"/>
<circle cx="672.22" cy="384.6" r="2.15" fill="#4169e1"/>
<circle cx="679.74" cy="387.8" r="2.15" fill="#4169e1"/>
<circle cx="687.26" cy="391" r="2.15" fill="#4169e1"/>
<circle cx="694.78" cy="393.3" r="2.15" fill="#4169e1"/>
<circle cx="702.3" cy="395.13" r="2.15" fill="#4169e1"/>
<circle cx="709.82" cy="397.08" r="2.15" fill="#4169e1"/>
<circle cx="717.34" cy="399.03" r="2.15" fill="#4169e1"/>
<circle cx="724.86" cy="400.95" r="2.15" fill="#4169e1"/>
<circle cx="732.38" cy="402.71" r="2.15" fill="#4169e1"/>
<circle cx="739.9" cy="404.47" r="2.15" fill="#4169e1"/>
<circle cx="747.42" cy="406.22" r="2.15" fill="#4169e1"/>
<circle cx="754.94" cy="407.43" r="2.15" fill="#4169e1"/>
<circle cx="762.46" cy="408.54" r="2.15" fill="#4169e1"/>
<circle cx="769.98" cy="409.65" r="2.15" fill="#4169e1"/>
</g>
<line x1="576.6" y1="434" x2="579.2" y2="434" stroke="#333" stroke-width="0.9"/>
<text class="ls" x="574.2" y="438.3" font-size="12.6" text-anchor="end">0.0</text>
<line x1="576.6" y1="402.7" x2="579.2" y2="402.7" stroke="#333" stroke-width="0.9"/>
<text class="ls" x="574.2" y="407" font-size="12.6" text-anchor="end">0.2</text>
<line x1="576.6" y1="371.4" x2="579.2" y2="371.4" stroke="#333" stroke-width="0.9"/>
<text class="ls" x="574.2" y="375.7" font-size="12.6" text-anchor="end">0.4</text>
<line x1="576.6" y1="340.1" x2="579.2" y2="340.1" stroke="#333" stroke-width="0.9"/>
<text class="ls" x="574.2" y="344.4" font-size="12.6" text-anchor="end">0.6</text>
<line x1="576.6" y1="308.8" x2="579.2" y2="308.8" stroke="#333" stroke-width="0.9"/>
<text class="ls" x="574.2" y="313.1" font-size="12.6" text-anchor="end">0.8</text>
<line x1="588.3" y1="455.4" x2="588.3" y2="458" stroke="#333" stroke-width="0.9"/>
<text class="ls" x="588.3" y="469.2" font-size="12.6" text-anchor="middle">0.00</text>
<line x1="635.35" y1="455.4" x2="635.35" y2="458" stroke="#333" stroke-width="0.9"/>
<text class="ls" x="635.35" y="469.2" font-size="12.6" text-anchor="middle">0.25</text>
<line x1="682.4" y1="455.4" x2="682.4" y2="458" stroke="#333" stroke-width="0.9"/>
<text class="ls" x="682.4" y="469.2" font-size="12.6" text-anchor="middle">0.50</text>
<line x1="729.45" y1="455.4" x2="729.45" y2="458" stroke="#333" stroke-width="0.9"/>
<text class="ls" x="729.45" y="469.2" font-size="12.6" text-anchor="middle">0.75</text>
<line x1="776.5" y1="455.4" x2="776.5" y2="458" stroke="#333" stroke-width="0.9"/>
<text class="ls" x="776.5" y="469.2" font-size="12.6" text-anchor="middle">1.00</text>
<text class="ls" x="682.5" y="483.2" font-size="12.6" text-anchor="middle">Time</text>
<text class="ls" font-size="12.6" text-anchor="middle" transform="translate(552.2,382.4) rotate(-90)">Entropy production rate</text>
<rect x="707.6" y="314.9" width="71.6" height="44.4" rx="2" fill="#fff" fill-opacity="0.8" stroke="#ccc" stroke-width="0.9"/>
<circle cx="720.9" cy="324.5" r="2.9" fill="#4169e1"/>
<polygon points="720.9,334.6 717.6,340.8 724.2,340.8" fill="#3cb371"/>
<line x1="713.1" y1="350.3" x2="728.3" y2="350.3" stroke="#000" stroke-width="1.5"/>
<text class="ls" x="733.8" y="327.9" font-size="8.1">Var(<tspan font-style="italic">J</tspan><tspan font-size="5.8" dy="1.4" font-weight="bold" font-style="italic">d</tspan><tspan font-size="4.6" dy="-1.6">*</tspan><tspan dy="0.2">)/2d<tspan font-style="italic">t</tspan></tspan></text>
<path d="M734.6,321.5 Q739.6,319.6 745.6,319 Q751.6,319.6 756.6,321.5" fill="none" stroke="#000" stroke-width="0.55"/>
<text class="dv" x="733.8" y="339.6" font-size="8.6" font-style="italic">σ<tspan class="ls" font-size="7.2" dy="1.6" font-style="normal">Simple</tspan></text>
<text class="ls" font-size="7" text-anchor="middle" transform="translate(737,335.6) scale(1.2,0.7)">^</text>
<text class="dv" x="734" y="352.8" font-size="9.5" font-style="italic">σ<tspan font-style="normal">(</tspan>t<tspan font-style="normal">)</tspan></text>
</svg></body></html>
